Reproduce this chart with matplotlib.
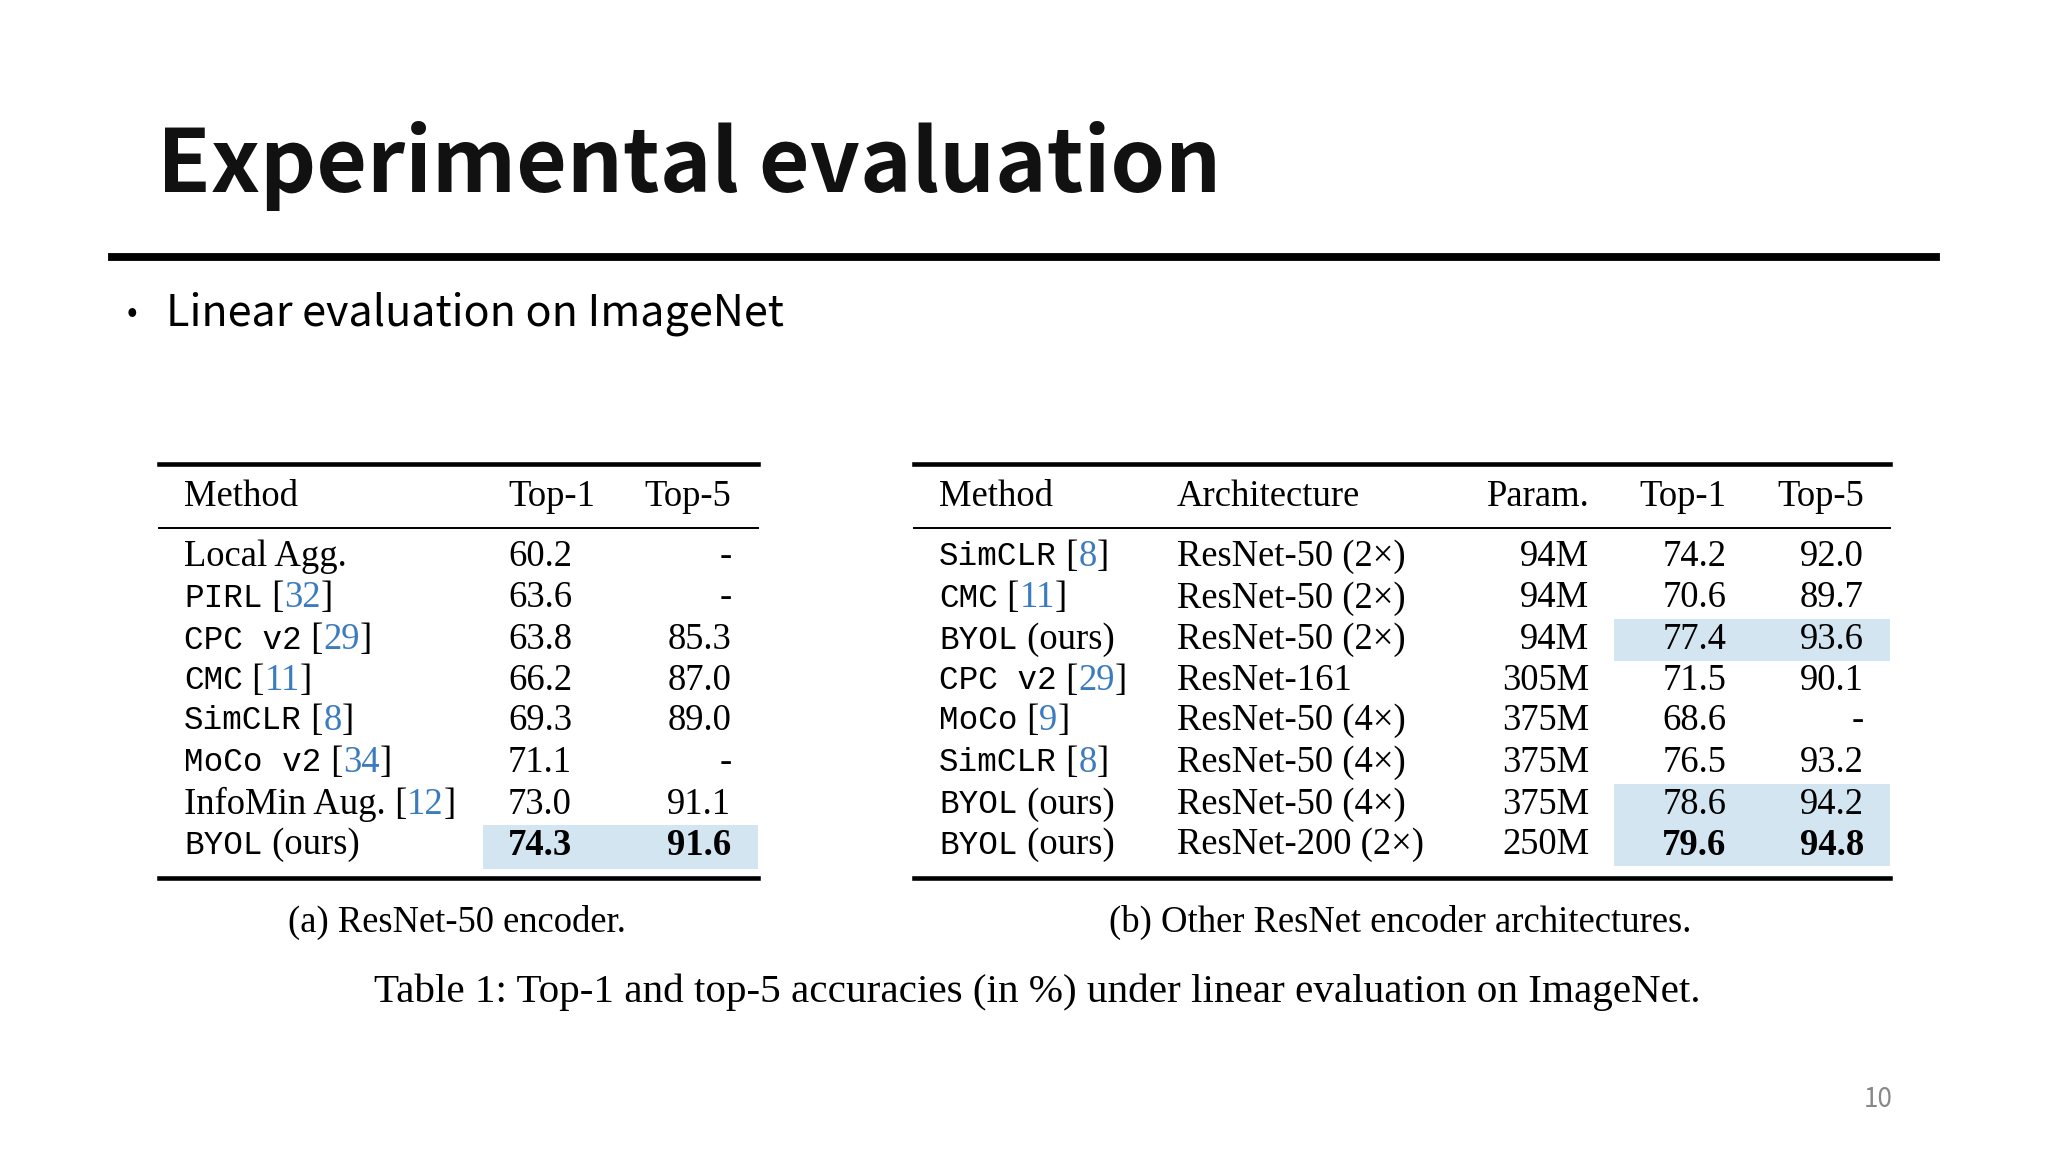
import matplotlib
matplotlib.use("Agg")
import matplotlib.pyplot as plt
from matplotlib.patches import Rectangle

W, H = 1568, 882
S = 2048 / W  # display px -> real px

def pt(px):
    # approx em size in display px -> points at dpi 100
    return px * S * 0.72

SERIF = "Liberation Serif"
MONO = "Liberation Mono"
SANS = ["Noto Sans CJK KR", "DejaVu Sans"]
BLUE = "#3b7bbf"
HL = "#d3e5f1"

# table (a)
a_methods = [[("Local Agg.", SERIF, "k")],
             [("PIRL", MONO, "k"), (" [", SERIF, "k"), ("32", SERIF, BLUE), ("]", SERIF, "k")],
             [("CPC v2", MONO, "k"), (" [", SERIF, "k"), ("29", SERIF, BLUE), ("]", SERIF, "k")],
             [("CMC", MONO, "k"), (" [", SERIF, "k"), ("11", SERIF, BLUE), ("]", SERIF, "k")],
             [("SimCLR", MONO, "k"), (" [", SERIF, "k"), ("8", SERIF, BLUE), ("]", SERIF, "k")],
             [("MoCo v2", MONO, "k"), (" [", SERIF, "k"), ("34", SERIF, BLUE), ("]", SERIF, "k")],
             [("InfoMin Aug.", SERIF, "k"), (" [", SERIF, "k"), ("12", SERIF, BLUE), ("]", SERIF, "k")],
             [("BYOL", MONO, "k"), (" (ours)", SERIF, "k")]]
a_top1 = ["60.2", "63.6", "63.8", "66.2", "69.3", "71.1", "73.0", "74.3"]
a_top5 = ["-", "-", "85.3", "87.0", "89.0", "-", "91.1", "91.6"]

# table (b)
b_methods = [[("SimCLR", MONO, "k"), (" [", SERIF, "k"), ("8", SERIF, BLUE), ("]", SERIF, "k")],
             [("CMC", MONO, "k"), (" [", SERIF, "k"), ("11", SERIF, BLUE), ("]", SERIF, "k")],
             [("BYOL", MONO, "k"), (" (ours)", SERIF, "k")],
             [("CPC v2", MONO, "k"), (" [", SERIF, "k"), ("29", SERIF, BLUE), ("]", SERIF, "k")],
             [("MoCo", MONO, "k"), (" [", SERIF, "k"), ("9", SERIF, BLUE), ("]", SERIF, "k")],
             [("SimCLR", MONO, "k"), (" [", SERIF, "k"), ("8", SERIF, BLUE), ("]", SERIF, "k")],
             [("BYOL", MONO, "k"), (" (ours)", SERIF, "k")],
             [("BYOL", MONO, "k"), (" (ours)", SERIF, "k")]]
b_arch = ["ResNet-50 (2×)", "ResNet-50 (2×)", "ResNet-50 (2×)", "ResNet-161",
          "ResNet-50 (4×)", "ResNet-50 (4×)", "ResNet-50 (4×)", "ResNet-200 (2×)"]
b_param = ["94M", "94M", "94M", "305M", "375M", "375M", "375M", "250M"]
b_top1 = ["74.2", "70.6", "77.4", "71.5", "68.6", "76.5", "78.6", "79.6"]
b_top5 = ["92.0", "89.7", "93.6", "90.1", "-", "93.2", "94.2", "94.8"]
b_hl = [2, 6, 7]
b_bold = [7]

rows_y = [426, 458, 490, 521, 552, 584, 616, 647]

fig = plt.figure(figsize=(20.48, 11.52), dpi=100)
ax = fig.add_axes([0, 0, 1, 1])
ax.set_xlim(0, W)
ax.set_ylim(H, 0)
ax.axis("off")
fig.canvas.draw()
r = fig.canvas.get_renderer()

FS = 28
MS = 25  # monospace size

def pieces(x, y, parts, size):
    for s, fam, c in parts:
        sz = MS if fam == MONO else size
        t = ax.text(x, y, s, family=fam, color=c, fontsize=pt(sz), va="center", ha="left")
        bb = t.get_window_extent(renderer=r)
        x += bb.width / S

ax.text(120, 127, "Experimental evaluation", family=SANS, weight="bold",
        fontsize=pt(67), va="center", ha="left", color="#111111")
ax.plot([86, 1482], [197, 197], color="k", lw=6 * S * 0.72)
ax.text(97, 240, "•", family=SANS, fontsize=pt(24), va="center")
ax.text(127, 240, "Linear evaluation on ImageNet", family=SANS, fontsize=pt(33), va="center")

# table (a)
for y in (355, 672):
    ax.plot([122, 580], [y, y], color="k", lw=3.5 * S * 0.72)
ax.plot([122, 580], [404, 404], color="k", lw=1.5 * S * 0.72)
ax.add_patch(Rectangle((370, 632), 210, 33, color=HL, lw=0))
ax.text(141, 380, "Method", family=SERIF, fontsize=pt(FS), va="center")
ax.text(389, 380, "Top-1", family=SERIF, fontsize=pt(FS), va="center")
ax.text(560, 380, "Top-5", family=SERIF, fontsize=pt(FS), va="center", ha="right")
for i, y in enumerate(rows_y):
    pieces(141, y, a_methods[i], FS)
    w = "bold" if i == 7 else "normal"
    ax.text(389, y, a_top1[i], family=SERIF, fontsize=pt(FS), va="center", weight=w)
    ax.text(560, y, a_top5[i], family=SERIF, fontsize=pt(FS), va="center", ha="right", weight=w)

# table (b)
for y in (355, 672):
    ax.plot([700, 1447], [y, y], color="k", lw=3.5 * S * 0.72)
ax.plot([700, 1447], [404, 404], color="k", lw=1.5 * S * 0.72)
for i in b_hl:
    ax.add_patch(Rectangle((1236, rows_y[i] - 16), 211, 32, color=HL, lw=0))
for x, s, ha in [(719, "Method", "left"), (901, "Architecture", "left"),
                 (1217, "Param.", "right"), (1322, "Top-1", "right"), (1427, "Top-5", "right")]:
    ax.text(x, 380, s, family=SERIF, fontsize=pt(FS), va="center", ha=ha)
for i, y in enumerate(rows_y):
    pieces(719, y, b_methods[i], FS)
    ax.text(901, y, b_arch[i], family=SERIF, fontsize=pt(FS), va="center")
    ax.text(1217, y, b_param[i], family=SERIF, fontsize=pt(FS), va="center", ha="right")
    w = "bold" if i in b_bold else "normal"
    ax.text(1322, y, b_top1[i], family=SERIF, fontsize=pt(FS), va="center", ha="right", weight=w)
    ax.text(1427, y, b_top5[i], family=SERIF, fontsize=pt(FS), va="center", ha="right", weight=w)

ax.text(350, 706, "(a) ResNet-50 encoder.", family=SERIF, fontsize=pt(FS), va="center", ha="center")
ax.text(1072, 706, "(b) Other ResNet encoder architectures.", family=SERIF, fontsize=pt(FS),
        va="center", ha="center")
ax.text(794, 760, "Table 1: Top-1 and top-5 accuracies (in %) under linear evaluation on ImageNet.",
        family=SERIF, fontsize=pt(31.5), va="center", ha="center")
ax.text(1438, 842, "10", family=SANS, fontsize=pt(20), va="center", ha="center", color="#888888")

fig.savefig("out.png", dpi=100)
